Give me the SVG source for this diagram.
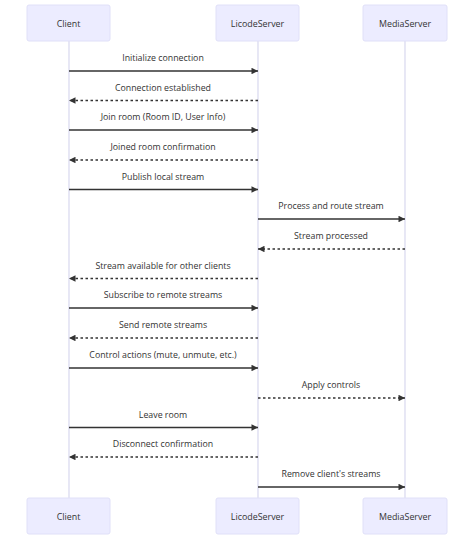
<svg xmlns="http://www.w3.org/2000/svg" width="474" height="540" viewBox="0 0 474 540">
<style>
.actor{fill:#ECECFF;stroke:#e0e0f8;stroke-width:1}
.atext{font-family:"Open Sans","Liberation Sans",sans-serif;font-size:8.9px;fill:#333;text-anchor:middle;dominant-baseline:central}
.life{stroke:#d8d8ee;stroke-width:1.2}
.msg{stroke:#333;stroke-width:1.3;fill:none}
.dot{stroke-dasharray:2.5,2.5}
.mtext{font-family:"Open Sans","Liberation Sans",sans-serif;font-size:8.8px;fill:#333;text-anchor:middle;dominant-baseline:central}
</style>
<defs>
<marker id="ah" viewBox="0 0 10 10" refX="10" refY="5" markerWidth="7" markerHeight="6.5" markerUnits="userSpaceOnUse" orient="auto">
<path d="M0,0 L10,5 L0,10 z" fill="#333"/>
</marker>
</defs>
<g id="lifelines">
<line class="life" x1="69" y1="41" x2="69" y2="498"/>
<line class="life" x1="258" y1="41" x2="258" y2="498"/>
<line class="life" x1="405" y1="41" x2="405" y2="498"/>
</g>
<g id="client-top"><rect class="actor" x="27" y="5" width="83" height="36" rx="2"/><text class="atext" x="68.5" y="23">Client</text></g>
<g id="licode-top"><rect class="actor" x="216" y="5" width="83" height="36" rx="2"/><text class="atext" x="257.5" y="23">LicodeServer</text></g>
<g id="media-top"><rect class="actor" x="363" y="5" width="84" height="36" rx="2"/><text class="atext" x="405" y="23">MediaServer</text></g>
<g id="client-bottom"><rect class="actor" x="27" y="498" width="83" height="36" rx="2"/><text class="atext" x="68.5" y="516">Client</text></g>
<g id="licode-bottom"><rect class="actor" x="216" y="498" width="83" height="36" rx="2"/><text class="atext" x="257.5" y="516">LicodeServer</text></g>
<g id="media-bottom"><rect class="actor" x="363" y="498" width="84" height="36" rx="2"/><text class="atext" x="405" y="516">MediaServer</text></g>
<g id="connectors">
<line class="msg" x1="69" y1="71" x2="258" y2="71" marker-end="url(#ah)"/>
<text class="mtext" x="163" y="58">Initialize connection</text>
<line class="msg dot" x1="258" y1="100.5" x2="69" y2="100.5" marker-end="url(#ah)"/>
<text class="mtext" x="163" y="87.5">Connection established</text>
<line class="msg" x1="69" y1="130" x2="258" y2="130" marker-end="url(#ah)"/>
<text class="mtext" x="163" y="117">Join room (Room ID, User Info)</text>
<line class="msg dot" x1="258" y1="160" x2="69" y2="160" marker-end="url(#ah)"/>
<text class="mtext" x="163" y="147">Joined room confirmation</text>
<line class="msg" x1="69" y1="189.5" x2="258" y2="189.5" marker-end="url(#ah)"/>
<text class="mtext" x="163" y="176.5">Publish local stream</text>
<line class="msg" x1="258" y1="219" x2="405" y2="219" marker-end="url(#ah)"/>
<text class="mtext" x="331" y="206">Process and route stream</text>
<line class="msg dot" x1="405" y1="249" x2="258" y2="249" marker-end="url(#ah)"/>
<text class="mtext" x="331" y="236">Stream processed</text>
<line class="msg dot" x1="258" y1="278.5" x2="69" y2="278.5" marker-end="url(#ah)"/>
<text class="mtext" x="163" y="265.5">Stream available for other clients</text>
<line class="msg" x1="69" y1="308" x2="258" y2="308" marker-end="url(#ah)"/>
<text class="mtext" x="163" y="295">Subscribe to remote streams</text>
<line class="msg dot" x1="258" y1="338" x2="69" y2="338" marker-end="url(#ah)"/>
<text class="mtext" x="163" y="325">Send remote streams</text>
<line class="msg" x1="69" y1="368" x2="258" y2="368" marker-end="url(#ah)"/>
<text class="mtext" x="163" y="355">Control actions (mute, unmute, etc.)</text>
<line class="msg dot" x1="258" y1="398" x2="405" y2="398" marker-end="url(#ah)"/>
<text class="mtext" x="331" y="385">Apply controls</text>
<line class="msg" x1="69" y1="427.5" x2="258" y2="427.5" marker-end="url(#ah)"/>
<text class="mtext" x="163" y="414.5">Leave room</text>
<line class="msg dot" x1="258" y1="457" x2="69" y2="457" marker-end="url(#ah)"/>
<text class="mtext" x="163" y="444">Disconnect confirmation</text>
<line class="msg" x1="258" y1="487" x2="405" y2="487" marker-end="url(#ah)"/>
<text class="mtext" x="331" y="474">Remove client's streams</text>
</g>
</svg>
